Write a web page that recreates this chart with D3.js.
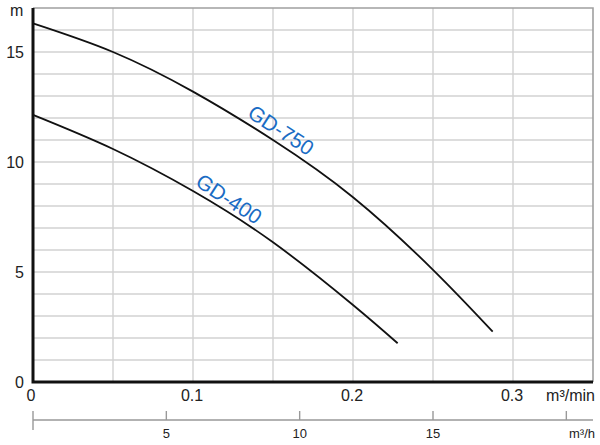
<!DOCTYPE html>
<html>
<head>
<script src="https://d3js.org/d3.v7.min.js"></script>
<style>
  body {margin: 0; background: #fff; font-family: "Liberation Sans", Arial, sans-serif;}
  .tick-label {font-size: 16px; fill: #222;}
  .h-label {font-size: 13px; fill: #222;}
  .curve-label {font-size: 21px; fill: #1a6cc4;}
</style>
</head>
<body>
<svg id="chart" width="600" height="445"></svg>

<script>
// flow in m3/min, head in m
var q750 = [0, 0.05, 0.1, 0.15, 0.2, 0.25, 0.2873];
var h750 = [16.3, 15.0, 13.2, 11.0, 8.4, 5.1, 2.29];
var q400 = [0, 0.05, 0.1, 0.15, 0.2, 0.2279];
var h400 = [12.14, 10.59, 8.68, 6.35, 3.5, 1.76];

var seriesNames = ["GD-750", "GD-400"];
var labelQ = [0.155, 0.1225];
var labelH = [11.45, 8.32];

var yTicks = [0, 5, 10, 15];
var xTicks = [0, 0.1, 0.2, 0.3];
var hourTicks = [0, 5, 10, 15, 20];
var hourLabels = ["", "5", "10", "15", ""];

var svg = d3.select("#chart"),
    plotLeft = 33, plotRight = 593, plotTop = 8, plotBottom = 382;

var x = d3.scaleLinear().domain([0, 0.35]).range([plotLeft, plotRight]);
var y = d3.scaleLinear().domain([0, 17]).range([plotBottom, plotTop]);
var xh = d3.scaleLinear().domain([0, 21]).range([plotLeft, plotRight]);

// grid
svg.append("g")
    .selectAll("line")
    .data(d3.range(1, 17))
    .enter().append("line")
    .attr("x1", x(0)).attr("x2", x(0.35))
    .attr("y1", function(d) { return y(d); })
    .attr("y2", function(d) { return y(d); })
    .attr("stroke", "#d2d2d2")
    .attr("stroke-width", 1.4);

svg.append("g")
    .selectAll("line")
    .data(d3.range(1, 7).map(function(i) { return i * 0.05; }))
    .enter().append("line")
    .attr("x1", function(d) { return x(d); })
    .attr("x2", function(d) { return x(d); })
    .attr("y1", y(17)).attr("y2", y(0))
    .attr("stroke", "#d2d2d2")
    .attr("stroke-width", 1.4);

// frame
svg.append("path")
    .attr("d", "M" + x(0) + "," + y(17) + "H" + x(0.35) + "V" + y(0))
    .attr("fill", "none")
    .attr("stroke", "#a0a0a0")
    .attr("stroke-width", 1.6);

svg.append("path")
    .attr("d", "M" + x(0) + "," + y(17) + "V" + y(0) + "H" + x(0.35))
    .attr("fill", "none")
    .attr("stroke", "#111")
    .attr("stroke-width", 3);

// curves
var line = d3.line()
    .x(function(d) { return x(d[0]); })
    .y(function(d) { return y(d[1]); })
    .curve(d3.curveNatural);

var curves = [d3.zip(q750, h750), d3.zip(q400, h400)];

svg.append("g")
    .selectAll("path")
    .data(curves)
    .enter().append("path")
    .attr("d", line)
    .attr("fill", "none")
    .attr("stroke", "#111")
    .attr("stroke-width", 1.8);

svg.append("g")
    .selectAll("text")
    .data(seriesNames)
    .enter().append("text")
    .attr("class", "curve-label")
    .attr("text-anchor", "middle")
    .attr("dy", "0.35em")
    .attr("transform", function(d, i) {
        return "translate(" + x(labelQ[i]) + "," + y(labelH[i]) + ") rotate(33)";
    })
    .text(function(d) { return d; });

// y labels
svg.append("g")
    .selectAll("text")
    .data(yTicks)
    .enter().append("text")
    .attr("class", "tick-label")
    .attr("x", 24)
    .attr("y", function(d) { return y(d); })
    .attr("dy", "0.35em")
    .attr("text-anchor", "end")
    .text(function(d) { return d; });

svg.append("text")
    .attr("class", "tick-label")
    .attr("x", 10)
    .attr("y", 16)
    .text("m");

// x labels (m3/min)
svg.append("g")
    .selectAll("text")
    .data(xTicks)
    .enter().append("text")
    .attr("class", "tick-label")
    .attr("x", function(d) { return x(d) - (d === 0 ? 2 : 1); })
    .attr("y", 401)
    .attr("text-anchor", "middle")
    .text(function(d) { return d; });

svg.append("text")
    .attr("class", "tick-label")
    .attr("x", 595)
    .attr("y", 401)
    .attr("text-anchor", "end")
    .text("m³/min");

// second axis m3/h
var hAxis = svg.append("g").attr("transform", "translate(0,420)");

hAxis.append("line")
    .attr("x1", xh(0)).attr("x2", xh(21))
    .attr("stroke", "#999")
    .attr("stroke-width", 1.4);

hAxis.selectAll("line.tk")
    .data(hourTicks)
    .enter().append("line")
    .attr("class", "tk")
    .attr("x1", function(d) { return xh(d); })
    .attr("x2", function(d) { return xh(d); })
    .attr("y1", -9)
    .attr("y2", function(d) { return d === 0 ? 10 : 0; })
    .attr("stroke", "#999")
    .attr("stroke-width", 1.4);

hAxis.selectAll("text")
    .data(hourTicks)
    .enter().append("text")
    .attr("class", "h-label")
    .attr("x", function(d) { return xh(d); })
    .attr("y", 18)
    .attr("text-anchor", "middle")
    .text(function(d, i) { return hourLabels[i]; });

svg.append("text")
    .attr("class", "h-label")
    .attr("font-size", "12px")
    .attr("x", 595)
    .attr("y", 438)
    .attr("text-anchor", "end")
    .text("m³/h");
</script>
</body>
</html>
